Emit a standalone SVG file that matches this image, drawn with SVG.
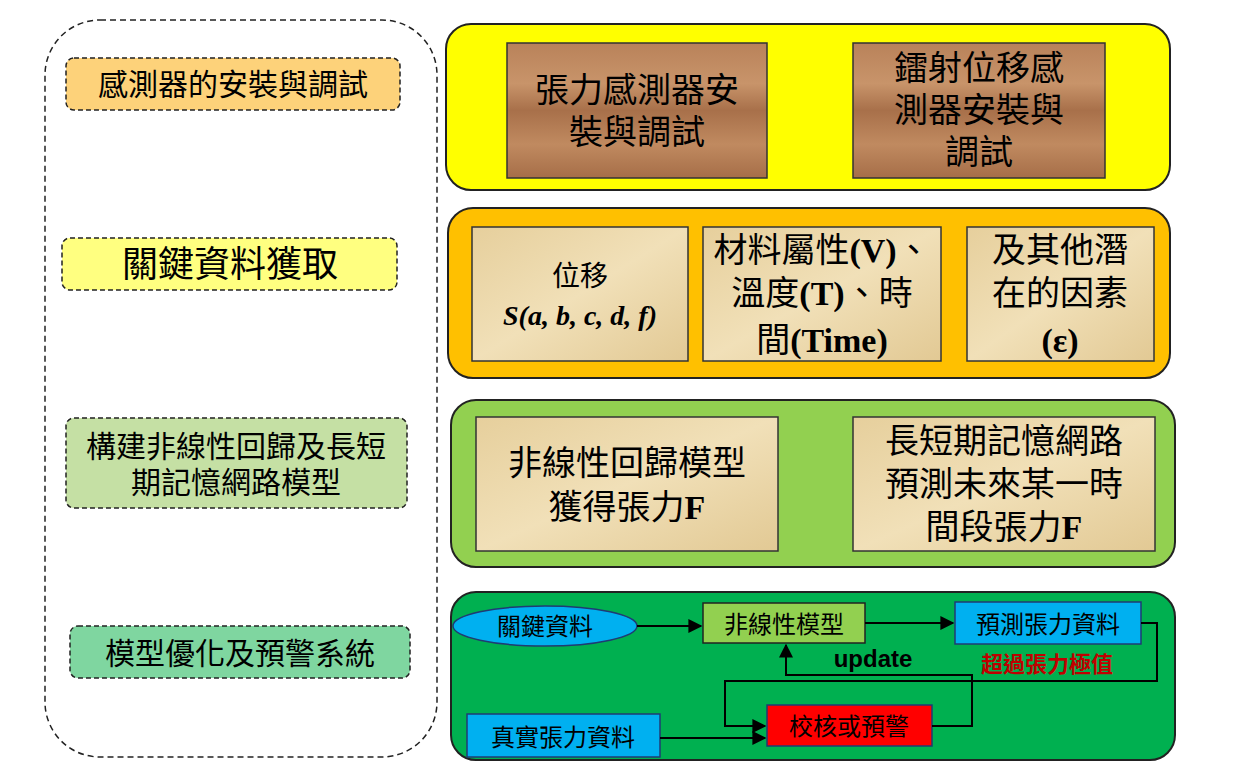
<svg xmlns="http://www.w3.org/2000/svg" width="1233" height="778" viewBox="0 0 1233 778">
<defs>
<linearGradient id="wood" x1="0" y1="0" x2="0" y2="1">
<stop offset="0" stop-color="#b9825a"/><stop offset="0.3" stop-color="#c8946a"/><stop offset="0.5" stop-color="#a8704a"/><stop offset="0.75" stop-color="#c08a60"/><stop offset="1" stop-color="#a66e48"/>
</linearGradient>
<linearGradient id="pap" x1="0" y1="0" x2="1" y2="1">
<stop offset="0" stop-color="#e6cf9c"/><stop offset="0.5" stop-color="#f1e0b8"/><stop offset="1" stop-color="#e2c994"/>
</linearGradient>
<marker id="ar" viewBox="0 0 10 10" refX="9" refY="5" markerWidth="7" markerHeight="7" orient="auto"><path d="M0,0 L10,5 L0,10 z" fill="#000"/></marker>
<style>
text{font-family:"Liberation Serif","Noto Sans CJK TC",serif;fill:#000;text-anchor:middle}
.lbl{stroke:#222;stroke-width:1.5;stroke-dasharray:5,3}
.pan{stroke:#222;stroke-width:2}
.bx{stroke:#333;stroke-width:1.5}
.big{font-size:34px}
.mid{font-size:30px}
.sm{font-size:24px}
.c{stroke:#000;stroke-width:2;fill:none}
</style>
</defs>
<rect x="45" y="20" width="392" height="737" rx="55" fill="none" stroke="#222" stroke-width="1.5" stroke-dasharray="6,4"/>
<g id="l1"><rect class="lbl" x="66" y="58" width="334" height="52" rx="8" fill="#fdd27a"/><text x="233" y="95" class="mid">感測器的安裝與調試</text></g>
<g id="l2"><rect class="lbl" x="62" y="238" width="335" height="52" rx="8" fill="#ffff80"/><text x="230" y="277" style="font-size:36px">關鍵資料獲取</text></g>
<g id="l3"><rect class="lbl" x="66" y="418" width="341" height="90" rx="8" fill="#c5e0a4"/><text x="236" y="457" class="mid">構建非線性回歸及長短</text><text x="236" y="493" class="mid">期記憶網路模型</text></g>
<g id="l4"><rect class="lbl" x="70" y="626" width="340" height="52" rx="8" fill="#7fd6a0"/><text x="240" y="664" class="mid">模型優化及預警系統</text></g>

<g id="p1"><rect class="pan" x="446" y="24" width="724" height="166" rx="25" fill="#ffff00"/>
<rect class="bx" x="507" y="43" width="260" height="135" fill="url(#wood)"/><text x="637" y="102" class="big">張力感測器安</text><text x="637" y="144" class="big">裝與調試</text>
<rect class="bx" x="853" y="43" width="252" height="135" fill="url(#wood)"/><text x="979" y="80" class="big">鐳射位移感</text><text x="979" y="122" class="big">測器安裝與</text><text x="979" y="164" class="big">調試</text></g>

<g id="p2"><rect class="pan" x="448" y="208" width="722" height="170" rx="25" fill="#ffc000"/>
<rect class="bx" x="472" y="227" width="216" height="134" fill="url(#pap)"/><text x="580" y="286" style="font-size:28px">位移</text><text x="580" y="325" style="font-size:28px;font-weight:bold;font-style:italic">S(a, b, c, d, f)</text>
<rect class="bx" x="703" y="227" width="238" height="134" fill="url(#pap)"/><text x="822" y="262" class="big">材料屬性<tspan font-weight="bold">(V)</tspan>、</text><text x="822" y="305" class="big">溫度<tspan font-weight="bold">(T)</tspan>、時</text><text x="822" y="352" class="big">間<tspan font-weight="bold">(Time)</tspan></text>
<rect class="bx" x="967" y="227" width="187" height="134" fill="url(#pap)"/><text x="1060" y="262" class="big">及其他潛</text><text x="1060" y="305" class="big">在的因素</text><text x="1060" y="352" class="big" font-weight="bold">(ε)</text></g>

<g id="p3"><rect class="pan" x="451" y="400" width="724" height="167" rx="25" fill="#92d050"/>
<rect class="bx" x="476" y="417" width="302" height="134" fill="url(#pap)"/><text x="627" y="475" class="big">非線性回歸模型</text><text x="627" y="519" class="big">獲得張力<tspan font-weight="bold">F</tspan></text>
<rect class="bx" x="853" y="417" width="302" height="134" fill="url(#pap)"/><text x="1004" y="453" class="big">長短期記憶網路</text><text x="1004" y="496" class="big">預測未來某一時</text><text x="1004" y="539" class="big">間段張力<tspan font-weight="bold">F</tspan></text></g>

<g id="p4"><rect class="pan" x="451" y="592" width="724" height="168" rx="25" fill="#00b050"/></g>
<g id="n1"><ellipse cx="545" cy="626" rx="92" ry="20" fill="#00b0f0" stroke="#1f3b73" stroke-width="1.5"/><text x="545" y="635" class="sm">關鍵資料</text></g>
<g id="n2"><rect x="703" y="603" width="162" height="40" fill="#92d050" stroke="#222" stroke-width="1.5"/><text x="784" y="633" class="sm">非線性模型</text></g>
<g id="n3"><rect x="955" y="602" width="186" height="42" fill="#00b0f0" stroke="#1f3b73" stroke-width="1.5"/><text x="1048" y="633" class="sm">預測張力資料</text></g>
<g id="n4"><rect x="467" y="714" width="193" height="43" fill="#00b0f0" stroke="#1f3b73" stroke-width="1.5"/><text x="563" y="746" class="sm">真實張力資料</text></g>
<g id="n5"><rect x="767" y="705" width="165" height="41" fill="#ff0000" stroke="#1f3b73" stroke-width="1.5"/><text x="849" y="735" class="sm">校核或預警</text></g>
<text x="873" y="667" style="font-family:'Liberation Sans',sans-serif;font-size:24px;font-weight:bold">update</text>
<text x="1047" y="672" style="font-size:22px;font-weight:bold;fill:#c00000">超過張力極值</text>
<g id="connectors">
<path class="c" d="M637,626 H701" marker-end="url(#ar)"/>
<path class="c" d="M865,623 H953" marker-end="url(#ar)"/>
<path class="c" d="M1141,623 H1157 V681 H725 V726 H765" marker-end="url(#ar)"/>
<path class="c" d="M932,726 H972 V675 H786 V645" marker-end="url(#ar)"/>
<path class="c" d="M660,738 H765" marker-end="url(#ar)"/>
</g>
</svg>
